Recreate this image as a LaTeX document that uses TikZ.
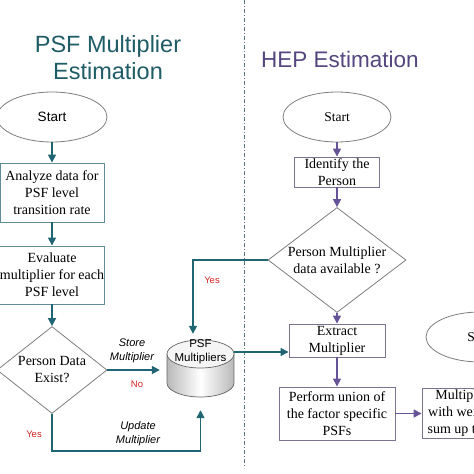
\documentclass[tikz,border=0pt]{standalone}
\usepackage{fontspec}
\setmainfont{Liberation Serif}
\setsansfont{Liberation Sans}
\usetikzlibrary{arrows.meta,calc,shapes.geometric}
\definecolor{TealClr}{RGB}{31,101,115}
\definecolor{TitleTealClr}{RGB}{30,92,102}
\definecolor{PurpleClr}{RGB}{102,82,150}
\definecolor{TitlePurpleClr}{RGB}{85,70,128}
\definecolor{EdgeClr}{RGB}{125,125,125}
\definecolor{BoxTealClr}{RGB}{95,140,150}
\definecolor{BoxPurpleClr}{RGB}{125,115,145}
\definecolor{YesNoClr}{RGB}{215,35,35}

\tikzset{
  txt/.style={font=\fontsize{14}{17}\selectfont,align=center,inner sep=0pt},
  boxL/.style={txt,draw=BoxTealClr,line width=.9pt,fill=white},
  boxR/.style={txt,draw=BoxPurpleClr,line width=.9pt,fill=white},
  oval/.style={ellipse,draw=EdgeClr,line width=.8pt,inner sep=0pt,minimum width=#1,minimum height=50pt},
  decide/.style={diamond,txt,draw=EdgeClr,line width=.8pt},
  ttl/.style={font=\sffamily\fontsize{23.5}{27}\selectfont,align=center,inner sep=0pt},
  lbl/.style={font=\sffamily\itshape\fontsize{11}{13.5}\selectfont,align=center,inner sep=0pt},
  yn/.style={font=\sffamily\fontsize{9.5}{11}\selectfont,text=YesNoClr,inner sep=0pt},
  arrT/.style={draw=TealClr,line width=1.6pt,-{Triangle[length=8pt,width=8pt]}},
  arrP/.style={draw=PurpleClr,line width=1.6pt,-{Triangle[length=8pt,width=8pt]}},
  sepLine/.style={draw=gray!60!TealClr,line width=.7pt,dash pattern=on 4pt off 2pt on 1pt off 2pt}
}

\begin{document}
\begin{tikzpicture}[x=1pt,y=-1pt]
\useasboundingbox (0,0) rectangle (474,474);
\clip (0,0) rectangle (474,474);

\draw[sepLine] (244,0) -- (244,468);

\node[ttl,text=TitleTealClr] (ttlL) at (108,58) {PSF Multiplier\\Estimation};
\node[ttl,text=TitlePurpleClr,font=\sffamily\fontsize{22.5}{27}\selectfont] (ttlR) at (340,59.5) {HEP Estimation};

\node[oval=110pt,font=\sffamily\fontsize{13.5}{16}\selectfont] (startL) at (52,117) {Start};
\node[boxL,minimum width=104pt,minimum height=59pt] (anl) at (52,192.5) {Analyze data for\\PSF level\\transition rate};
\node[boxL,minimum width=104pt,minimum height=58pt] (evl) at (52,275) {Evaluate\\multiplier for each\\PSF level};
\node[decide,minimum width=110pt,minimum height=87pt,aspect=1.24] (exist) at (52,370) {Person Data\\Exist?};

\shade[left color=gray!55,right color=gray!55,middle color=white,draw=gray!80!black,line width=.7pt]
  (167,354) -- (167,383) arc[start angle=180,end angle=0,x radius=33.5,y radius=14] -- (234,354) -- cycle;
\draw[fill=gray!8,draw=gray!80!black,line width=.7pt] (200.5,354) ellipse[x radius=33.5,y radius=14];
\node[minimum width=67pt,minimum height=57pt,inner sep=0pt] (psf) at (200.5,368.5) {};
\node[font=\sffamily\fontsize{11.5}{14}\selectfont,align=center,inner sep=0pt] (psfTxt) at (200.5,352) {PSF\\Multipliers};

\node[oval=108pt,font=\fontsize{13.5}{16}\selectfont] (startR) at (337,117) {Start};
\node[boxR,minimum width=85pt,minimum height=30pt] (ident) at (337,172) {Identify the\\Person};
\node[decide,minimum width=138pt,minimum height=105pt,aspect=1.31] (avail) at (337,260) {Person Multiplier\\data available ?};
\node[boxR,minimum width=96pt,minimum height=33pt] (ext) at (337,340.5) {Extract\\Multiplier};
\node[boxR,minimum width=116pt,minimum height=53pt] (perf) at (337,413.5) {Perform union of\\the factor specific\\PSFs};
\node[boxR,minimum width=108pt,minimum height=50pt] (mult) at (476,413.5) {Multiply PSFs\\with weights and\\sum up the HEPs};
\node[oval=108pt,font=\fontsize{13.5}{16}\selectfont] (startS) at (480,337) {Start};

\draw[arrT] (startL) -- (anl);
\draw[arrT] (anl) -- (evl);
\draw[arrT] (evl) -- (exist);
\draw[arrT,shorten >=7pt] (exist.east) -- (exist.east -| psf.west);
\draw[arrT,shorten >=13pt] (exist.south) -- ++(0,37) -| (psf.south);
\draw[arrT,shorten >=6pt] (avail.west) -| ([xshift=-7.5pt]psf.north);
\draw[arrT] ([yshift=16.5pt]psf.east) -- ([yshift=16.5pt]psf.east -| ext.west);

\draw[arrP] (startR) -- (ident);
\draw[arrP] (ident) -- (avail);
\draw[arrP] (avail) -- (ext);
\draw[arrP] (ext) -- (perf);
\draw[arrP] (perf) -- (mult);

\node[lbl] (storeLbl) at (132,351) {Store\\Multiplier};
\node[yn] (noLbl) at (137,384) {No};
\node[lbl] (updLbl) at (138,433.5) {Update\\Multiplier};
\node[yn] (yesL) at (34,434) {Yes};
\node[yn] (yesR) at (212,280) {Yes};

\end{tikzpicture}
\end{document}
